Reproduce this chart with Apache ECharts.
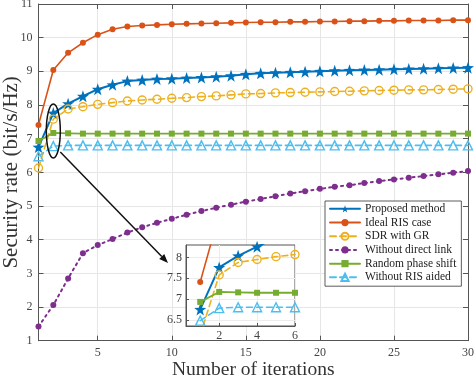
<!DOCTYPE html>
<html>
<head>
<meta charset="utf-8">
<script src="https://cdn.jsdelivr.net/npm/echarts@6/dist/echarts.min.js"></script>
<style>
  html, body { margin: 0; padding: 0; background: #fff; }
  #chart { width: 474px; height: 376px; }
</style>
</head>
<body>
<div id="chart"></div>
<script>
// data
var iterations = [1, 2, 3, 4, 5, 6, 7, 8, 9, 10, 11, 12, 13, 14, 15, 16, 17, 18, 19, 20, 21, 22, 23, 24, 25, 26, 27, 28, 29, 30]
var proposed = [6.75, 7.76, 8.04, 8.26, 8.47, 8.60, 8.71, 8.74, 8.77, 8.78, 8.80, 8.82, 8.84, 8.87, 8.91, 8.94, 8.96, 8.97, 8.99, 9.00, 9.02, 9.03, 9.04, 9.05, 9.06, 9.07, 9.08, 9.09, 9.10, 9.11]
var idealRis = [7.41, 9.04, 9.55, 9.85, 10.09, 10.25, 10.33, 10.36, 10.38, 10.40, 10.41, 10.42, 10.43, 10.44, 10.45, 10.46, 10.46, 10.47, 10.47, 10.48, 10.48, 10.49, 10.49, 10.50, 10.50, 10.51, 10.51, 10.51, 10.52, 10.52]
var sdrGr = [6.13, 7.58, 7.88, 7.95, 8.02, 8.07, 8.12, 8.15, 8.17, 8.20, 8.22, 8.25, 8.27, 8.30, 8.33, 8.34, 8.36, 8.37, 8.38, 8.39, 8.40, 8.41, 8.42, 8.43, 8.44, 8.45, 8.45, 8.46, 8.47, 8.48]
var noDirect = [1.42, 2.06, 2.85, 3.60, 3.84, 4.02, 4.21, 4.37, 4.50, 4.62, 4.74, 4.85, 4.95, 5.04, 5.13, 5.21, 5.29, 5.37, 5.44, 5.51, 5.57, 5.62, 5.68, 5.74, 5.79, 5.84, 5.89, 5.94, 5.99, 6.04]
var randomPhase = [6.93, 7.17, 7.16, 7.15, 7.15, 7.15, 7.15, 7.15, 7.15, 7.15, 7.15, 7.15, 7.15, 7.15, 7.15, 7.15, 7.15, 7.15, 7.15, 7.15, 7.15, 7.15, 7.15, 7.15, 7.15, 7.15, 7.15, 7.15, 7.15, 7.15]
var noRis = [6.48, 6.78, 6.80, 6.80, 6.80, 6.80, 6.80, 6.80, 6.80, 6.80, 6.80, 6.80, 6.80, 6.80, 6.80, 6.80, 6.80, 6.80, 6.80, 6.80, 6.80, 6.80, 6.80, 6.80, 6.80, 6.80, 6.80, 6.80, 6.80, 6.80]

var xTicks = [5, 10, 15, 20, 25, 30]
var insetXTicks = [2, 4, 6]
var insetYTicks = [6.5, 7, 7.5, 8]
var insetCount = 6

var FONT = 'Liberation Serif'
var AXIS_COLOR = '#555'
var starPath = 'path://M0,-10L2.35,-3.24L9.51,-3.09L3.8,1.24L5.88,8.09L0,4L-5.88,8.09L-3.8,1.24L-9.51,-3.09L-2.35,-3.24Z'

var styles = [
    { name: 'Proposed method', data: proposed, color: '#0072BD', symbol: starPath, size: 12, line: 'solid', width: 2 },
    { name: 'Ideal RIS case', data: idealRis, color: '#D95319', symbol: 'circle', size: 6, line: 'solid', width: 1.6 },
    { name: 'SDR with GR', data: sdrGr, color: '#EDB120', symbol: 'circle', size: 8, line: [6, 4], width: 1.6, hollow: true },
    { name: 'Without direct link', data: noDirect, color: '#7E2F8E', symbol: 'circle', size: 6, line: [2, 4], width: 2 },
    { name: 'Random phase shift', data: randomPhase, color: '#77AC30', symbol: 'rect', size: 6, line: 'solid', width: 1.8 },
    { name: 'Without RIS aided', data: noRis, color: '#4DBEEE', symbol: 'triangle', size: 9, line: [6, 4], width: 1.6, hollow: true }
]

function makeSeries(s, grid, count) {
    var pts = []
    for (var i = 0; i < count; i++) pts.push([iterations[i], s.data[i]])
    return {
        name: s.name,
        type: 'line',
        xAxisIndex: grid === 0 ? 0 : 2,
        yAxisIndex: grid === 0 ? 0 : 2,
        data: pts,
        symbol: s.symbol,
        symbolSize: s.size,
        showAllSymbol: true,
        z: grid === 0 ? 2 : 6,
        lineStyle: { color: s.color, width: s.width, type: s.line, cap: 'round' },
        itemStyle: s.hollow
            ? { color: 'rgba(255,255,255,0)', borderColor: s.color, borderWidth: 1.4 }
            : { color: s.color, borderWidth: 0 },
        emphasis: { disabled: true },
        animation: false
    }
}

var series = []
styles.forEach(function (s) { series.push(makeSeries(s, 0, iterations.length)) })
styles.forEach(function (s) { series.push(makeSeries(s, 1, insetCount)) })

var tickLabel = { fontFamily: FONT, fontSize: 12, color: '#444' }

var myChart = echarts.init(document.getElementById('chart'))

myChart.setOption({
    animation: false,
    grid: [
        { left: 38.5, right: 6, top: 4, bottom: 35.3, outerBoundsMode: 'none', containLabel: false },
        { left: 186, top: 245, width: 109, height: 81, outerBoundsMode: 'none', containLabel: false,
          show: true, backgroundColor: '#fff', borderColor: AXIS_COLOR, borderWidth: 1, z: 3 }
    ],
    legend: {
        data: styles.map(function (s) { return s.name }),
        orient: 'vertical',
        left: 325,
        top: 201,
        itemWidth: 30,
        itemHeight: 9,
        itemGap: 0,
        padding: [1, 5, 2, 4],
        backgroundColor: '#fff',
        borderColor: '#333',
        borderWidth: 0.8,
        borderRadius: 0,
        textStyle: { fontFamily: FONT, fontSize: 11.5, lineHeight: 13.7, color: '#222' },
        selectedMode: false
    },
    xAxis: [
        {
            type: 'value', gridIndex: 0, min: 1, max: 30,
            name: 'Number of iterations', nameLocation: 'middle', nameGap: 19, nameMoveOverlap: false,
            nameTextStyle: { fontFamily: FONT, fontSize: 19.5, color: '#333' },
            axisLine: { lineStyle: { color: AXIS_COLOR, width: 1 } },
            axisTick: { inside: true, length: 5, customValues: xTicks, lineStyle: { color: AXIS_COLOR } },
            axisLabel: Object.assign({ customValues: xTicks, margin: 6 }, tickLabel),
            splitLine: { show: true, lineStyle: { color: '#e6e6e6', width: 1 } }
        },
        {
            type: 'value', gridIndex: 0, min: 1, max: 30, position: 'top',
            axisLine: { lineStyle: { color: AXIS_COLOR, width: 1 } },
            axisTick: { inside: true, length: 5, customValues: xTicks, lineStyle: { color: AXIS_COLOR } },
            axisLabel: { show: false },
            splitLine: { show: false }
        },
        {
            type: 'value', gridIndex: 1, min: 0.25, max: 6, z: 4,
            axisLine: { lineStyle: { color: AXIS_COLOR, width: 1 } },
            axisTick: { inside: true, length: 3, customValues: insetXTicks, lineStyle: { color: AXIS_COLOR } },
            axisLabel: Object.assign({ customValues: insetXTicks, margin: 4 }, tickLabel),
            splitLine: { show: true, lineStyle: { color: '#ececec', width: 1 } }
        }
    ],
    yAxis: [
        {
            type: 'value', gridIndex: 0, min: 1, max: 11, interval: 1,
            name: 'Security rate (bit/s/Hz)', nameLocation: 'middle', nameGap: 17, nameMoveOverlap: false,
            nameTextStyle: { fontFamily: FONT, fontSize: 21, color: '#333' },
            axisLine: { show: true, lineStyle: { color: AXIS_COLOR, width: 1 } },
            axisTick: { show: true, inside: true, length: 5, lineStyle: { color: AXIS_COLOR } },
            axisLabel: Object.assign({ margin: 6 }, tickLabel),
            splitLine: { show: true, lineStyle: { color: '#e6e6e6', width: 1 } }
        },
        {
            type: 'value', gridIndex: 0, min: 1, max: 11, interval: 1, position: 'right',
            axisLine: { show: true, lineStyle: { color: AXIS_COLOR, width: 1 } },
            axisTick: { show: true, inside: true, length: 5, lineStyle: { color: AXIS_COLOR } },
            axisLabel: { show: false },
            splitLine: { show: false }
        },
        {
            type: 'value', gridIndex: 1, min: 6.35, max: 8.3, z: 4,
            axisLine: { show: true, lineStyle: { color: AXIS_COLOR, width: 1 } },
            axisTick: { show: true, inside: true, length: 3, customValues: insetYTicks, lineStyle: { color: AXIS_COLOR } },
            axisLabel: Object.assign({ customValues: insetYTicks, margin: 4 }, tickLabel),
            splitLine: { show: true, lineStyle: { color: '#ececec', width: 1 } }
        }
    ],
    series: series
})

// ellipse around iteration 2 and arrow towards the zoomed inset
var c = myChart.convertToPixel({ xAxisIndex: 0, yAxisIndex: 0 }, [2, 7.23])
var insetLeft = 186, insetTop = 245
var ax0 = c[0] + 7, ay0 = c[1] + 21
var ax1 = insetLeft - 18, ay1 = insetTop + 18
var ang = Math.atan2(ay1 - ay0, ax1 - ax0)
var hl = 9, hw = 3.5
var bx = ax1 - hl * Math.cos(ang), by = ay1 - hl * Math.sin(ang)
myChart.setOption({
    graphic: [
        { type: 'ellipse', z: 20, shape: { cx: c[0], cy: c[1], rx: 7, ry: 27 }, style: { fill: 'none', stroke: '#111', lineWidth: 1.5 } },
        { type: 'line', z: 20, shape: { x1: ax0, y1: ay0, x2: bx, y2: by }, style: { stroke: '#111', lineWidth: 1.5 } },
        { type: 'polygon', z: 20, shape: { points: [
            [ax1, ay1],
            [bx + hw * Math.sin(ang), by - hw * Math.cos(ang)],
            [bx - hw * Math.sin(ang), by + hw * Math.cos(ang)]
        ] }, style: { fill: '#111' } }
    ]
})
</script>
</body>
</html>
